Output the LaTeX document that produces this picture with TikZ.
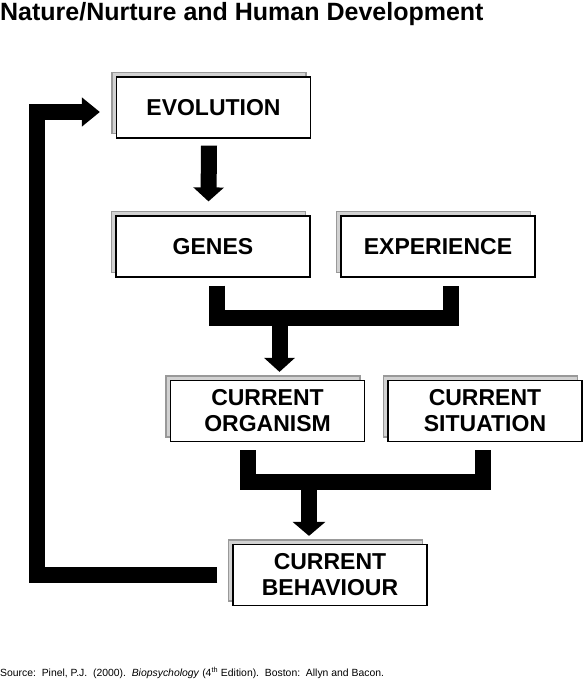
\documentclass[tikz,border=0pt]{standalone}
\usepackage{fontspec}
\setmainfont{Liberation Sans}
\usetikzlibrary{arrows.meta,shadows}

\tikzset{
  stage/.style={draw=black, line width=1.2pt, fill=white, align=center,
    minimum width=194pt, minimum height=61pt, inner sep=0pt,
    font=\bfseries\fontsize{23}{26}\selectfont,
    general shadow={shadow xshift=-4.5pt, shadow yshift=4.5pt,
      fill=gray!35, draw=gray!80, line width=1.2pt}},
  bar/.style={line width=16pt, line join=miter},
  flow/.style={bar, -{Triangle[width=30pt,length=14pt]}},
}

\begin{document}
\begin{tikzpicture}[x=1pt,y=-1pt]
  \useasboundingbox (0,0) rectangle (584,680);

  % Heading and source line.
  \node[anchor=base west,inner sep=0pt,font=\bfseries\fontsize{25}{29}\selectfont]
    (title) at (0,20.5) {Nature/Nurture and Human Development};
  \node[anchor=base west,inner sep=0pt,font=\fontsize{10.4}{12}\selectfont]
    (source) at (0,676)
    {Source:\ \ Pinel, P.J.\ \ (2000).\ \ \textit{Biopsychology} (4\textsuperscript{th} Edition).\ \ Boston:\ \ Allyn and Bacon.};

  % The six stages.
  \foreach \name/\x/\y/\txt in {
    evo/213.5/107.5/EVOLUTION,
    genes/213/246.5/GENES,
    exp/438/246.5/EXPERIENCE,
    org/267.5/411/CURRENT\\ORGANISM,
    sit/485/411/CURRENT\\SITUATION,
    beh/330/575/CURRENT\\BEHAVIOUR}
    \node[stage] (\name) at (\x,\y) {\txt};

  % Evolution shapes the genes.
  \draw[flow] ([xshift=-4.5pt,yshift=-7pt]evo.south)
    -- ([xshift=-4.5pt,yshift=14pt]genes.north);

  % Genes and experience meet, then give the current organism.
  \draw[bar] ([xshift=4pt,yshift=-8pt]genes.south) -- ++(0,32)
    -| ([xshift=13pt,yshift=-8pt]exp.south);
  \coordinate (j1) at (279.5,317.6);
  \draw[flow] (j1) -- ([xshift=12pt,yshift=8pt]org.north);

  % Organism and situation meet, then give the behaviour.
  \draw[bar] ([xshift=-19.5pt,yshift=-8pt]org.south) -- ++(0,31.5)
    -| ([xshift=-2.5pt,yshift=-8pt]sit.south);
  \coordinate (j2) at (309,481.5);
  \draw[bar,-{Triangle[width=32pt,length=14pt]}] (j2)
    -- ([xshift=-21pt,yshift=8pt]beh.north);

  % Behaviour feeds back into evolution.
  \draw[bar,-{Triangle[width=28pt,length=18pt]}] ([xshift=-15pt]beh.west)
    -- ++(-180,0) |- ([xshift=-16pt,yshift=-4.5pt]evo.west);
\end{tikzpicture}
\end{document}
